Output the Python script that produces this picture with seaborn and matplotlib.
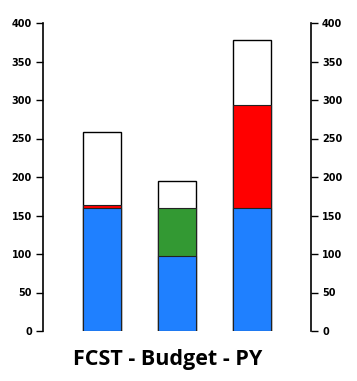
import matplotlib
matplotlib.use("Agg")
import matplotlib.pyplot as plt
import seaborn as sns

# data
categories = ["FCST", "Budget", "PY"]
base_vals = [160, 98, 160]        # blue segment
middle_vals = [3, 62, 133]        # red / green segment
top_vals = [95, 35, 85]           # white segment
middle_colors = ["#FF0000", "#339933", "#FF0000"]
base_color = "#1F80FF"
title_text = "FCST - Budget - PY"
y_ticks = [0, 50, 100, 150, 200, 250, 300, 350, 400]

level2 = [b + m for b, m in zip(base_vals, middle_vals)]
totals = [l + t for l, t in zip(level2, top_vals)]

sns.set_style("white")
plt.rcParams["font.family"] = ["DejaVu Sans"]
plt.rcParams["text.color"] = "black"
plt.rcParams["ytick.color"] = "black"
plt.rcParams["axes.edgecolor"] = "black"

fig = plt.figure(figsize=(3.57, 3.81), dpi=100)
ax = fig.add_axes([43 / 357, 50 / 381, 268 / 357, 308 / 381])

bar_w = 0.51
# stacked bars drawn back to front: total, base+middle, base
sns.barplot(x=categories, y=totals, color="white", edgecolor="black",
            linewidth=1, width=bar_w, ax=ax)
sns.barplot(x=categories, y=level2, hue=categories, palette=middle_colors,
            edgecolor="#222222", linewidth=0.8, width=bar_w, legend=False,
            saturation=1, ax=ax)
sns.barplot(x=categories, y=base_vals, color=base_color, edgecolor="#222222",
            linewidth=0.8, width=bar_w, saturation=1, ax=ax)

ax.set_xlim(-0.787, 2.787)
ax.set_ylim(0, 400)
ax.set_yticks(y_ticks)
ax.set_xticks([])
ax.set_xlabel("")
ax.set_ylabel("")

ax2 = ax.twinx()
ax2.set_ylim(0, 400)
ax2.set_yticks(y_ticks)

for a in (ax, ax2):
    for side in ("top", "bottom"):
        a.spines[side].set_visible(False)
    a.tick_params(axis="y", length=5, width=1, pad=3, labelsize=7,
                  colors="black")
    for lbl in a.get_yticklabels():
        lbl.set_fontweight("bold")
ax.spines["right"].set_visible(False)
ax2.spines["left"].set_visible(False)
ax.spines["left"].set_linewidth(1.2)
ax2.spines["right"].set_linewidth(1.2)
ax.tick_params(axis="y", left=True, right=False)
ax2.tick_params(axis="y", right=True, left=False)

fig.text(168 / 357, 16 / 381, title_text, ha="center", va="baseline",
         fontsize=15.5, fontweight="bold", color="black",
         family=["Open Sans", "DejaVu Sans"])

fig.savefig("out.png", dpi=100, facecolor="white")
